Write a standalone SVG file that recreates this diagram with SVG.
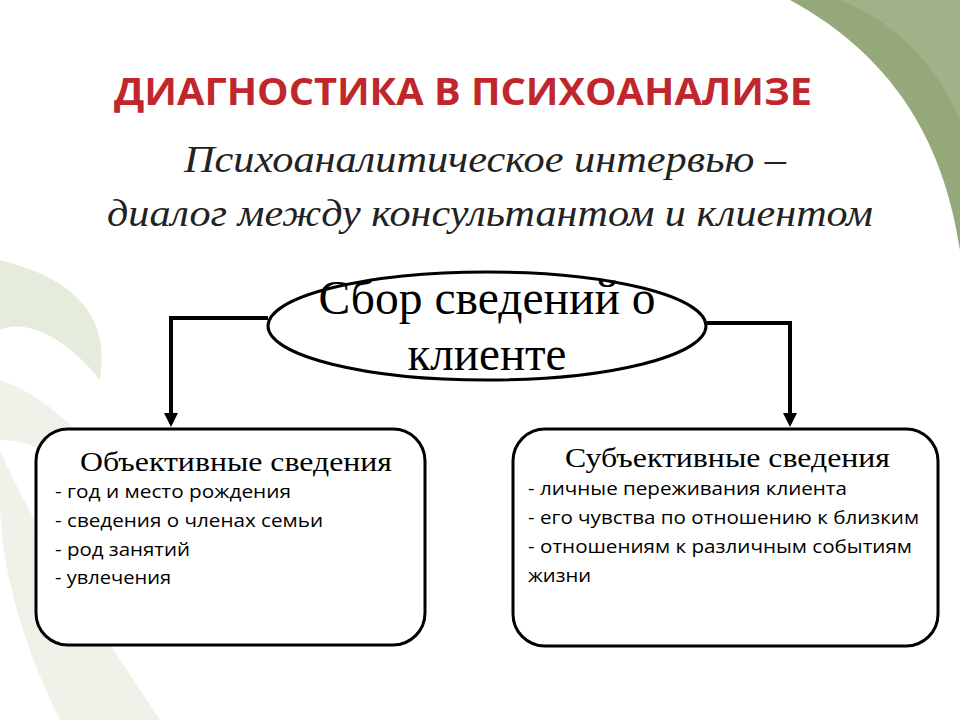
<svg xmlns="http://www.w3.org/2000/svg" width="960" height="720" viewBox="0 0 960 720">
<defs>
<marker id="ah" viewBox="0 0 10 10" refX="5" refY="5" markerWidth="3.5" markerHeight="3.5" orient="auto" markerUnits="strokeWidth"><path d="M0,0 L10,5 L0,10 Z" fill="#000"/></marker>
</defs>
<style>
.box{fill:#fff;stroke:#000;stroke-width:3}
.con{fill:none;stroke:#000;stroke-width:4}
.hd{font-family:"Liberation Serif","Times New Roman",serif;font-size:27px;fill:#000}
.it{font-family:"Open Sans",sans-serif;font-size:18px;fill:#000}
.el{font-family:"Liberation Serif","Times New Roman",serif;font-size:48px;fill:#000}
</style>
<rect width="960" height="720" fill="#fff"/>
<path d="M790,0 L960,0 L960,250 C945,150 900,60 790,0 Z" fill="#94a87a"/>
<path d="M840,0 L960,0 L960,120 C935,60 890,20 840,0 Z" fill="#a9b98f" opacity="0.6"/>
<path d="M0,260 C80,280 110,320 100,380 C60,330 20,320 0,330 Z" fill="#e6ecdc"/>
<path d="M0,450 C30,520 80,600 160,720 L60,720 C20,640 0,560 0,500 Z" fill="#eef2e8"/>
<path d="M0,380 C60,400 120,470 130,520 C90,470 40,440 0,440 Z" fill="#eef2e8"/>
<text x="463" y="105" text-anchor="middle" font-family="'Open Sans',sans-serif" font-weight="bold" font-size="38" fill="#c0272d" textLength="698" lengthAdjust="spacingAndGlyphs">ДИАГНОСТИКА В ПСИХОАНАЛИЗЕ</text>
<text x="485" y="172" text-anchor="middle" font-family="'Liberation Serif','Times New Roman',serif" font-style="italic" font-size="38" fill="#222" textLength="602" lengthAdjust="spacingAndGlyphs">Психоаналитическое интервью –</text>
<text x="490" y="226" text-anchor="middle" font-family="'Liberation Serif','Times New Roman',serif" font-style="italic" font-size="38" fill="#222" textLength="766" lengthAdjust="spacingAndGlyphs">диалог между консультантом и клиентом</text>
<g id="connectors">
<path class="con" d="M268,318 L171,318 L171,420" marker-end="url(#ah)"/>
<path class="con" d="M707,323 L790,323 L790,420" marker-end="url(#ah)"/>
</g>
<g id="center">
<ellipse cx="487" cy="326" rx="219" ry="54" class="box"/>
<text x="487" y="314" text-anchor="middle" class="el" textLength="337" lengthAdjust="spacingAndGlyphs">Сбор сведений о</text>
<text x="487" y="370" text-anchor="middle" class="el" textLength="159" lengthAdjust="spacingAndGlyphs">клиенте</text>
</g>
<g id="objective">
<rect x="36" y="429" width="389" height="216" rx="32" class="box"/>
<text x="80" y="471" class="hd" textLength="312" lengthAdjust="spacingAndGlyphs">Объективные сведения</text>
<text x="55" y="498" class="it" textLength="236" lengthAdjust="spacingAndGlyphs">- год и место рождения</text>
<text x="55" y="527" class="it" textLength="268" lengthAdjust="spacingAndGlyphs">- сведения о членах семьи</text>
<text x="55" y="556" class="it" textLength="135" lengthAdjust="spacingAndGlyphs">- род занятий</text>
<text x="55" y="584" class="it" textLength="116" lengthAdjust="spacingAndGlyphs">- увлечения</text>
</g>
<g id="subjective">
<rect x="513" y="429" width="425" height="217" rx="32" class="box"/>
<text x="565" y="467" class="hd" textLength="325" lengthAdjust="spacingAndGlyphs">Субъективные сведения</text>
<text x="528" y="495" class="it" textLength="319" lengthAdjust="spacingAndGlyphs">- личные переживания клиента</text>
<text x="528" y="524" class="it" textLength="391" lengthAdjust="spacingAndGlyphs">- его чувства по отношению к близким</text>
<text x="528" y="553" class="it" textLength="384" lengthAdjust="spacingAndGlyphs">- отношениям к различным событиям</text>
<text x="528" y="582" class="it" textLength="63" lengthAdjust="spacingAndGlyphs">жизни</text>
</g>
</svg>
